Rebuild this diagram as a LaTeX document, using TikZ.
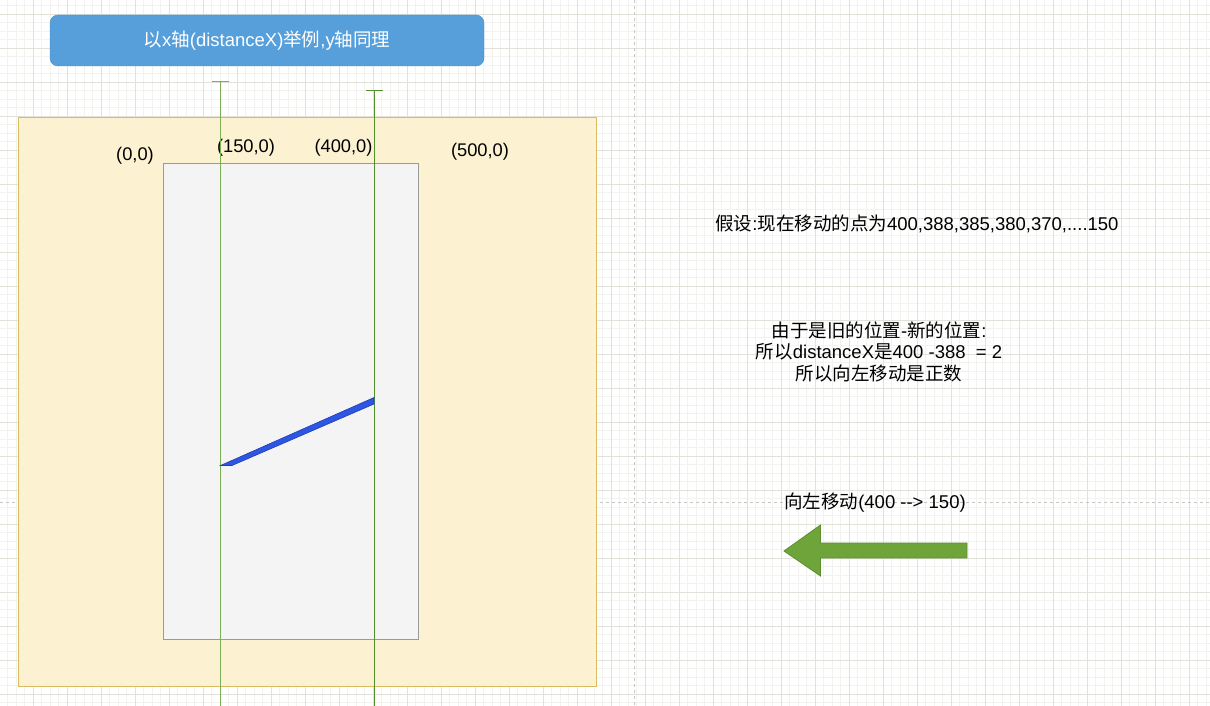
\documentclass[tikz,border=0pt]{standalone}
\usepackage{fontspec}
\setmainfont{Liberation Sans}
\newfontfamily\cjk{Noto Sans CJK SC}
\usetikzlibrary{positioning,calc}

\newcommand{\zh}[1]{{\cjk #1}}

\definecolor{gridminor}{HTML}{F2F2EE}
\definecolor{gridmajor}{HTML}{E2E2DB}
\definecolor{titleblue}{HTML}{569FDB}
\definecolor{titleedge}{HTML}{4A8CC6}
\definecolor{canvasfill}{HTML}{FCF1D0}
\definecolor{canvasedge}{HTML}{D9BC62}
\definecolor{screenfill}{HTML}{F4F4F4}
\definecolor{screenedge}{HTML}{9A9A9A}
\definecolor{lineA}{HTML}{7DAF55}
\definecolor{lineB}{HTML}{52902A}
\definecolor{moveblue}{HTML}{2E56E2}
\definecolor{moveedge}{HTML}{1E3DB8}
\definecolor{arrowgreen}{HTML}{6FA43A}
\definecolor{arrowedge}{HTML}{5D8F2D}

\begin{document}
\begin{tikzpicture}[x=1pt,y=-1pt,
  lbl/.style={inner sep=0pt,font=\fontsize{18.3}{21}\selectfont},
  note/.style={inner sep=0pt,align=center,font=\fontsize{18.5}{21.5}\selectfont},
  pagebreak/.style={draw=gray!45,dash pattern=on 3pt off 3pt,line width=0.8pt}]
  \useasboundingbox[fill=white] (0,0) rectangle (1210,706);

  % background grid
  \foreach \i in {0,...,143}
    \draw[gridminor,line width=0.8pt] (\i*8.5-0.7,0) -- (\i*8.5-0.7,706);
  \foreach \i in {-1,...,82}
    \draw[gridminor,line width=0.8pt] (0,\i*8.5+14) -- (1210,\i*8.5+14);
  \foreach \i in {0,...,36}
    \draw[gridmajor,line width=0.8pt] (\i*34-0.7,0) -- (\i*34-0.7,706);
  \foreach \i in {0,...,20}
    \draw[gridmajor,line width=0.8pt] (0,\i*34+14) -- (1210,\i*34+14);
  \draw[pagebreak] (634,0) -- (634,706);
  \draw[pagebreak] (0,502) -- (1210,502);

  % title
  \node[draw=titleedge,fill=titleblue,rounded corners=8pt,minimum width=434pt,minimum height=51pt,
        text=white,font=\fontsize{18.5}{21}\selectfont] (title) at (267,40.5)
        {\zh{以}x\zh{轴}(distanceX)\zh{举例},y\zh{轴同理}};

  % canvas and screen
  \node[draw=canvasedge,fill=canvasfill,minimum width=578pt,minimum height=569pt,inner sep=0pt] (canvas) at (307,401.5) {};
  \node[draw=screenedge,fill=screenfill,line width=1pt,minimum width=255pt,minimum height=476pt,inner sep=0pt] (screen) at (290.5,401) {};

  \node[lbl] (o00) at (135,156) {(0,0)};
  \node[lbl] (p150) at (246,148) {(150,0)};
  \node[lbl] (p400) at (343.5,148) {(400,0)};
  \node[lbl] (p500) at (480,152) {(500,0)};

  % green marker lines
  \coordinate (aTop) at (220.5,82);
  \coordinate (aBot) at (220.5,706);
  \coordinate (bTop) at (374,91);
  \coordinate (bBot) at (374,706);
  \draw[lineA,line width=1pt] (aTop) -- (aBot);
  \draw[lineA,line width=1pt] ($(aTop)+(-8.5,0)$) -- ($(aTop)+(8.5,0)$);
  \draw[lineB,line width=1pt] (bTop) -- (bBot);
  \draw[lineB,line width=1pt] ($(bTop)+(-8.5,0)$) -- ($(bTop)+(8.5,0)$);

  % moving segment
  \coordinate (m1) at (220.5,465.5);
  \coordinate (m2) at (232,465.5);
  \coordinate (m3) at (374,404);
  \coordinate (m4) at (374,397.5);
  \filldraw[fill=moveblue,draw=moveedge,line width=0.6pt] (m1) -- (m2) -- (m3) -- (m4) -- cycle;

  % notes
  \node[note] (assume) at (917,224) {\zh{假设}:\zh{现在移动的点为}400,388,385,380,370,....150};
  \node[note] (reason) at (879,351.5)
    {\zh{由于是旧的位置}-\zh{新的位置}:\\
     \zh{所以}distanceX\zh{是}400 -388\ \ = 2\\
     \zh{所以向左移动是正数}};
  \node[note] (moveleft) at (875,503) {\zh{向左移动}(400 -{}-{}> 150)};

  % left arrow
  \filldraw[fill=arrowgreen,draw=arrowedge,line width=0.8pt]
    (967,543) -- (820.5,543) -- (820.5,525) -- (784,551) -- (820.5,576) -- (820.5,558) -- (967,558) -- cycle;
\end{tikzpicture}
\end{document}
